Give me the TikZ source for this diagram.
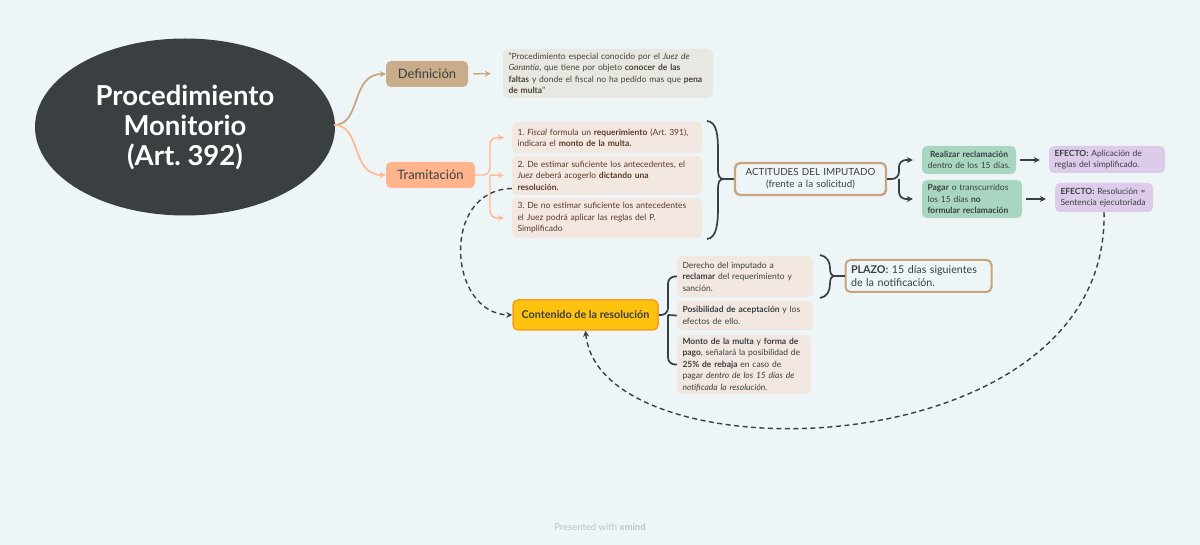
\documentclass[tikz,border=0pt]{standalone}
\usepackage{fontspec}
\setmainfont{Lato}
\usetikzlibrary{shapes.geometric,arrows.meta,calc}
\definecolor{bg}{HTML}{EEF5F6}
\definecolor{dark}{HTML}{3A3F42}
\definecolor{tanfill}{HTML}{C9AD8A}
\definecolor{tanline}{HTML}{C8A47E}
\definecolor{salmon}{HTML}{FFB48C}
\definecolor{salmonline}{HTML}{FFB893}
\definecolor{peach}{HTML}{F2E8E1}
\definecolor{defgray}{HTML}{E6E8E1}
\definecolor{mint}{HTML}{A8D6C0}
\definecolor{lilac}{HTML}{DDCBEA}
\definecolor{amber}{HTML}{FFC20E}
\definecolor{amberline}{HTML}{F6A01A}
\definecolor{brown}{HTML}{5B3A29}
\definecolor{txt}{HTML}{4A4038}
\definecolor{foot}{HTML}{BFC4C6}
\frenchspacing
\tikzset{
  box/.style={rectangle, rounded corners=5pt, inner xsep=5.5pt, inner ysep=2pt, align=left,
    font=\fontsize{8.5}{11.5}\selectfont},
  topic/.style={rectangle, rounded corners=5pt, font=\fontsize{13}{15}\selectfont, text=dark, inner sep=0pt},
  tanarrow/.style={draw=tanline, line width=1.7pt, -{Stealth[length=6pt,width=6pt]}},
  salarrow/.style={draw=salmonline, line width=1.7pt, -{Stealth[length=6pt,width=6pt]}},
  darkline/.style={draw=dark, line width=1.7pt},
  darkarrow/.style={draw=dark, line width=1.7pt, -{Stealth[length=6pt,width=6pt]}},
  dashconn/.style={draw=dark, line width=1.4pt, dash pattern=on 5pt off 3.5pt, -{Stealth[length=6pt,width=6pt]}},
}
\begin{document}
\begin{tikzpicture}[x=1pt,y=-1pt]
\useasboundingbox (0,0) rectangle (1200,545);
\fill[bg] (0,0) rectangle (1200,545);

% central topic
\node[ellipse, fill=dark, minimum width=300pt, minimum height=177pt, text=white,
  font=\fontsize{27.5}{30}\selectfont\bfseries, align=center] (root) at (185,127)
  {Procedimiento\\Monitorio\\(Art. 392)};

% main topics
\node[topic, fill=tanfill, minimum width=82pt, minimum height=26pt] (def) at (427,74) {Definición};
\node[topic, fill=salmon, minimum width=89pt, minimum height=26pt] (tram) at (430.5,175) {Tramitación};

\draw[tanarrow] (334,125) .. controls (362,125) and (350,74) .. (def.west);
\draw[salarrow] (334,125) .. controls (362,125) and (350,175) .. (tram.west);

% definition text
\node[box, fill=defgray, text=txt, text width=199pt, minimum height=49pt] (deft) at (608,73.5)
 {"Procedimiento especial conocido por el \textit{Juez de}\\\textit{Garantía}, que tiene por objeto \textbf{conocer de las}\\\textbf{faltas} y donde el fiscal no ha pedido mas que \textbf{pena}\\\textbf{de multa}"};
\draw[tanarrow, line width=1.3pt, shorten <=5pt, shorten >=12pt] (def.east) -- (deft.west);

% tramitación sub-boxes
\node[box, fill=peach, text=brown, text width=179pt, minimum height=31pt] (b1) at (607,137.5)
 {1. \textit{Fiscal} formula un \textbf{requerimiento} (Art. 391),\\indicara el \textbf{monto de la multa.}};
\node[box, fill=peach, text=brown, text width=179pt, minimum height=39pt] (b2) at (607,175.5)
 {2. De estimar suficiente los antecedentes, el\\\textit{Juez} deberá acogerlo \textbf{dictando una}\\\textbf{resolución.}};
\node[box, fill=peach, text=brown, text width=179pt, minimum height=40pt] (b3) at (607,218)
 {3. De no estimar suficiente los antecedentes\\el Juez podrá aplicar las reglas del P.\\Simplificado};

\draw[salarrow, line width=1.4pt, rounded corners=7pt] (tram.east) -- (490,175) |- ([xshift=-8pt]b1.west);
\draw[salarrow, line width=1.4pt, rounded corners=7pt] (490,175) |- ([xshift=-8pt]b3.west);
\draw[salarrow, line width=1.4pt] (490,175) -- ([xshift=-8pt]b2.west);

% actitudes
\node[box, draw=tanline, line width=2.3pt, fill=bg, text=dark, align=center,
  font=\fontsize{9.8}{12}\selectfont, minimum width=151pt, minimum height=32pt, text width=140pt] (act) at (810.5,179)
 {ACTITUDES DEL IMPUTADO\\(frente a la solicitud)};
\draw[darkline] (707,121) .. controls (717,122) and (718,135) .. (718,152) -- (718,168)
  .. controls (718,176) and (719,179) .. (724,179)
  .. controls (719,179) and (718,182) .. (718,190) -- (718,206)
  .. controls (718,223) and (717,238) .. (707,239);
\draw[darkline] (724,179) -- (act.west);

\node[box, fill=mint, text=dark, align=center, text width=83pt, minimum height=28pt] (real) at (969,160)
 {\textbf{Realizar reclamación}\\dentro de los 15 días.};
\node[box, fill=mint, text=dark, text width=89pt, minimum height=38pt] (pag) at (972,199)
 {\textbf{Pagar} o transcurridos\\los 15 días \textbf{no}\\\textbf{formular reclamación}};
\draw[darkarrow, rounded corners=7pt] (act.east) -- (899,179) |- ([xshift=-9pt]real.west);
\draw[darkarrow, rounded corners=7pt] (899,179) |- ([xshift=-9pt]pag.west);

\node[box, fill=lilac, text=dark, text width=105pt, minimum height=27pt] (ef1) at (1107,159.5)
 {\textbf{EFECTO:} Aplicación de\\reglas del simplificado.};
\node[box, fill=lilac, text=dark, text width=87pt, minimum height=29pt] (ef2) at (1104,197.5)
 {\textbf{EFECTO:} Resolución =\\Sentencia ejecutoriada};
\draw[darkarrow, line width=1.4pt, shorten <=4pt, shorten >=9pt] (real.east) -- (ef1.west |- real.east);
\draw[darkarrow, line width=1.4pt, shorten <=4pt, shorten >=9pt] (pag.east) -- (ef2.west |- pag.east);

% contenido de la resolución
\node[rectangle, rounded corners=5pt, fill=amber, draw=amberline, line width=1.5pt, text=dark,
  font=\fontsize{10.8}{12}\selectfont\bfseries, minimum width=145pt, minimum height=30pt, inner sep=0pt] (cont) at (585.5,315)
 {Contenido de la resolución};

\node[box, fill=peach, text=dark, text width=125pt, minimum height=41pt] (ca) at (745,276.5)
 {Derecho del imputado a\\\textbf{reclamar} del requerimiento y\\sanción.};
\node[box, fill=peach, text=dark, text width=125pt, minimum height=29pt] (cb) at (745,315.5)
 {\textbf{Posibilidad de aceptación} y los\\efectos de ello.};
\node[box, fill=peach, text=dark, text width=123pt, minimum height=59pt] (cc) at (744,364.5)
 {\textbf{Monto de la multa} y \textbf{forma de}\\\textbf{pago}, señalará la posibilidad de\\\textbf{25\% de rebaja} en caso de\\pagar \textit{dentro de los 15 días de}\\\textit{notificada la resolución.}};
\draw[darkline, rounded corners=7pt] (cont.east) -- (668,315) |- (ca.west);
\draw[darkline, rounded corners=7pt] (668,315) |- (cc.west);
\draw[darkline] (668,315) -- (cb.west);

\node[box, draw=tanline, line width=2pt, fill=bg, text=dark, font=\fontsize{10.7}{13}\selectfont,
  text width=135pt, minimum height=32pt] (plazo) at (918.5,276)
 {\textbf{PLAZO:} 15 días siguientes\\de la notificación.};
\draw[darkline] (820,255) .. controls (827,256) and (830,262) .. (830,268)
  .. controls (830,273) and (831,276) .. (835,276)
  .. controls (831,276) and (830,279) .. (830,284)
  .. controls (830,291) and (827,297) .. (820,298);
\draw[darkline] (835,276) -- (plazo.west);

% dashed relations
\draw[dashconn] ([yshift=-13pt]b2.west) .. controls (440,190) and (448,314) .. (cont.west);
\draw[dashconn] (ef2.south) .. controls (1110,470) and (600,480) .. (cont.south);

% footer
\node[font=\fontsize{9.5}{11}\selectfont, text=foot] (footer) at (600,527) {Presented with \textbf{xmind}};
\end{tikzpicture}
\end{document}
